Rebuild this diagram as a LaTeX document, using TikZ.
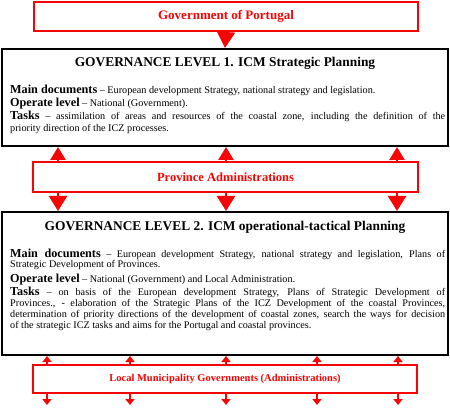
\documentclass[tikz,border=0pt]{standalone}
\usepackage{fontspec}
\setmainfont{Liberation Serif}
\usetikzlibrary{arrows.meta}
\definecolor{myred}{RGB}{245,5,5}
\newcommand{\kw}[1]{{\fontsize{12.2}{12}\selectfont\bfseries #1}}
\begin{document}
\begin{tikzpicture}[x=1pt,y=-1pt,
  redbox/.style={draw=myred, line width=2pt, fill=white, text=myred, font=\bfseries, inner sep=0pt},
  blackbox/.style={draw=black, line width=2pt, fill=white, inner sep=0pt},
  titletext/.style={font=\fontsize{13.4}{15}\selectfont\bfseries, inner sep=0pt, anchor=base},
  body/.style={text width=435pt, align=justify, inner sep=0pt, anchor=base west},
  bigup/.style={draw=myred, line width=2.5pt, -{Triangle[length=13pt,width=15pt]}, myred},
  bigdown/.style={draw=myred, line width=2.5pt, -{Triangle[length=15pt,width=18pt]}, myred},
  smallarr/.style={draw=myred, line width=1.6pt, -{Triangle[length=6pt,width=9pt]}, myred},
  govarr/.style={draw=myred, line width=2pt, -{Triangle[length=16pt,width=18pt]}, myred}]
\useasboundingbox (0,0) rectangle (450,417);

% boxes
\node[redbox, minimum width=384pt, minimum height=29pt, font=\fontsize{13}{15}\selectfont\bfseries] (gov) at (226,16.5) {Government of Portugal};
\node[blackbox, minimum width=446pt, minimum height=97pt] (l1) at (225,97.5) {};
\node[redbox, minimum width=385pt, minimum height=30pt, font=\fontsize{12.5}{14}\selectfont\bfseries] (pa) at (225.5,177) {Province Administrations};
\node[blackbox, minimum width=446pt, minimum height=143pt] (l2) at (225,283.5) {};
\node[redbox, minimum width=384pt, minimum height=28pt, font=\fontsize{10.5}{12}\selectfont\bfseries] (lm) at (225,379) {Local Municipality Governments (Administrations)};

% level 1 text
\node[titletext] (t1) at (225,67) {GOVERNANCE LEVEL 1. ICM Strategic Planning};
\node[body, font=\fontsize{10.2}{12}\selectfont] (m1) at (10,94) {\kw{Main documents} -- European development Strategy, national strategy and legislation.};
\node[body, font=\fontsize{10.2}{12}\selectfont] (o1) at (10,107) {\kw{Operate level} -- National (Government).};
\node[body, font=\fontsize{10.2}{12}\selectfont] (k1) at (10,120) {\kw{Tasks} -- assimilation of areas and resources of the coastal zone, including the definition of the\linebreak priority direction of the ICZ processes.};

% level 2 text
\node[titletext] (t2) at (225,230) {GOVERNANCE LEVEL 2. ICM operational-tactical Planning};
\node[body, font=\fontsize{10.2}{10.5}\selectfont] (m2) at (10,257) {\kw{Main documents} -- European development Strategy, national strategy and legislation, Plans of\linebreak Strategic Development of Provinces.};
\node[body, font=\fontsize{10.2}{11}\selectfont] (o2) at (10,282) {\kw{Operate level} -- National (Government) and Local Administration.};
\node[body, font=\fontsize{10.2}{11}\selectfont] (k2) at (10,295) {\kw{Tasks} -- on basis of the European development Strategy, Plans of Strategic Development of\linebreak Provinces., - elaboration of the Strategic Plans of the ICZ Development of the coastal Provinces,\linebreak determination of priority directions of the development of coastal zones, search the ways for decision\linebreak of the strategic ICZ tasks and aims for the Portugal and coastal provinces.};

% connectors
\draw[govarr] (gov.south) -- (l1.north);
\foreach \i/\x in {1/58,2/226,3/397}{
  \coordinate (a\i) at (\x,0);
  \draw[bigup] (a\i |- pa.north) -- (a\i |- l1.south);
  \draw[bigdown] (a\i |- pa.south) -- (a\i |- l2.north);
}
\foreach \i/\x in {1/47,2/130,3/226,4/317,5/398}{
  \coordinate (b\i) at (\x,0);
  \coordinate (d\i) at (\x,405);
  \draw[smallarr] (b\i |- lm.north) -- (b\i |- l2.south);
  \draw[smallarr] (b\i |- lm.south) -- (d\i);
}
\end{tikzpicture}
\end{document}
